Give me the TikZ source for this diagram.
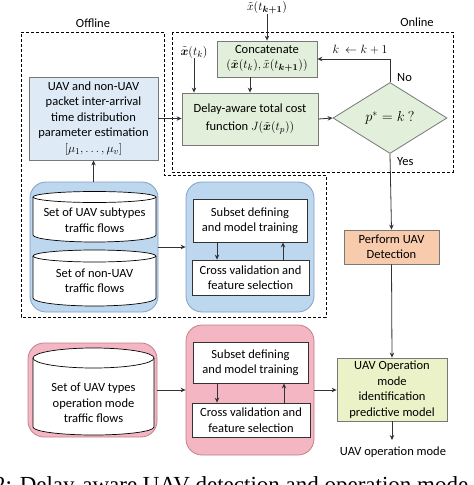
\documentclass[tikz,border=0pt]{standalone}
\usepackage{amsmath,bm}
\usepackage{fontspec}
\setmainfont{Carlito}
\newfontfamily\capfont{Liberation Serif}
\usetikzlibrary{arrows.meta,shapes.geometric}
\definecolor{gfill}{RGB}{226,239,218}
\definecolor{bfill}{RGB}{222,235,247}
\definecolor{bgrp}{RGB}{189,215,238}
\definecolor{bgrpd}{RGB}{130,160,200}
\definecolor{ofill}{RGB}{248,203,173}
\definecolor{yfill}{RGB}{236,242,200}
\definecolor{pfill}{RGB}{244,182,194}
\definecolor{pdraw}{RGB}{190,130,140}
\definecolor{bord}{RGB}{120,120,120}
\definecolor{arrc}{RGB}{50,50,50}
\tikzset{
  box/.style={draw=bord, line width=0.8pt, inner sep=0pt, align=center, font=\fontsize{12.5}{15.5}\selectfont},
  wbox/.style={draw=arrc, fill=white, line width=0.8pt, inner sep=0pt, align=center, font=\fontsize{12.5}{15.5}\selectfont},
  grp/.style={rounded corners=16pt, line width=0.8pt, inner sep=0pt},
  arr/.style={draw=arrc, line width=0.8pt, -{Stealth[length=5pt,width=4.5pt]}},
  dsh/.style={draw=black, line width=0.8pt, dash pattern=on 3pt off 2pt},
  lbl/.style={inner sep=1pt, font=\fontsize{12.5}{14}\selectfont},
  cyl/.style={draw=black, fill=white, line width=0.7pt}
}
\begin{document}
\begin{tikzpicture}[x=1pt,y=-1pt]
\useasboundingbox (0,0) rectangle (474,485);
\clip (0,0) rectangle (474,485);
\fill[white] (0,0) rectangle (474,485);
% dashed regions
\draw[dsh] (21,32) -- (164,32) -- (164,175) -- (326,175) -- (326,317) -- (21,317) -- cycle;
\draw[dsh] (172,32) rectangle (453,172);
\node[lbl] (offl) at (93,23) {Offline};
\node[lbl] (onl) at (417,22) {Online};
% online part
\node[box, fill=gfill, minimum width=100pt, minimum height=36pt, font=\fontsize{12.5}{15}\selectfont] (conc) at (267,59)
  {Concatenate\\$(\tilde{\bm{x}}(t_k),\tilde{x}(t_{\bm{k+1}}))$};
\node[box, fill=gfill, minimum width=136pt, minimum height=52pt, font=\fontsize{12.5}{18}\selectfont] (delay) at (250,119)
  {Delay-aware total cost\\function $J(\tilde{\bm{x}}(t_p))$};
\node[box, fill=gfill, shape=diamond, shape aspect=1.6, minimum width=114pt, minimum height=71pt, font=\fontsize{14}{16}\selectfont] (dia) at (390,118)
  {$p^{*}=k\ ?$};
\node[lbl, inner sep=0pt] (xk1) at (267,8) {$\tilde{x}(t_{\bm{k+1}})$};
\node[lbl, inner sep=0pt] (xk) at (194,52) {$\tilde{\bm{x}}(t_k)$};
\node[lbl] (kk) at (360,50) {$k\ \leftarrow k+1$};
\node[lbl, anchor=west] (no) at (396,78) {No};
\node[lbl, anchor=west] (yes) at (396,162) {Yes};
% offline top-left
\node[box, fill=bfill, minimum width=129pt, minimum height=83pt] (est) at (93.5,118.5)
  {UAV and non-UAV\\packet inter-arrival\\time distribution\\parameter estimation\\$[\mu_1,\ldots,\mu_v]$};
% blue groups
\node[grp, draw=bgrpd, fill=bgrp, minimum width=128pt, minimum height=130pt] (bg1) at (94,247) {};
\node[grp, draw=bgrpd, fill=bgrp, minimum width=128pt, minimum height=130pt] (bg2) at (250,247) {};
% cylinders blue
\draw[cyl] (33,197) -- (33,235) arc[start angle=180, end angle=360, x radius=61.5pt, y radius=7pt] -- (156,197);
\draw[cyl] (94.5,197) ellipse[x radius=61.5pt, y radius=5.5pt];
\draw[cyl] (33,256) -- (33,298) arc[start angle=180, end angle=360, x radius=61.5pt, y radius=8pt] -- (156,256);
\draw[cyl] (94.5,256) ellipse[x radius=61.5pt, y radius=6pt];
\node[lbl, align=center, font=\fontsize{12.5}{15.5}\selectfont] (c1) at (94.5,220) {Set of UAV subtypes\\traffic flows};
\node[lbl, align=center, font=\fontsize{12.5}{15.5}\selectfont] (c2) at (94.5,281) {Set of non-UAV\\traffic flows};
\node[wbox, minimum width=114pt, minimum height=43pt] (sub1) at (250,220.5) {Subset defining\\and model training};
\node[wbox, minimum width=117pt, minimum height=35pt] (cr1) at (250.5,277.5) {Cross validation and\\feature selection};
% right column
\node[box, fill=ofill, minimum width=95pt, minimum height=34pt] (perf) at (391.5,247) {Perform UAV\\Detection};
\node[box, fill=yfill, minimum width=110pt, minimum height=63pt] (oper) at (392,389.5)
  {UAV Operation\\mode\\identification\\predictive model};
\coordinate (outc) at (392,440);
\node[lbl] (outl) at (393,452) {UAV operation mode};
% pink groups
\node[grp, draw=pdraw, fill=pfill, minimum width=129pt, minimum height=94pt] (pg1) at (92.5,390) {};
\node[grp, draw=pdraw, fill=pfill, minimum width=128pt, minimum height=130pt] (pg2) at (250,390) {};
\draw[cyl] (33,358) -- (33,427) arc[start angle=180, end angle=360, x radius=60.5pt, y radius=8pt] -- (154,358);
\draw[cyl] (93.5,358) ellipse[x radius=60.5pt, y radius=10pt];
\node[lbl, align=center, font=\fontsize{12.5}{15.5}\selectfont] (c3) at (93.5,403) {Set of UAV types\\operation mode\\traffic flows};
\node[wbox, minimum width=115pt, minimum height=41pt] (sub2) at (250.5,362.5) {Subset defining\\and model training};
\node[wbox, minimum width=118pt, minimum height=34pt] (cr2) at (251,420) {Cross validation and\\feature selection};
% arrows
\draw[arr] (xk1.south) -- (conc.north);
\draw[arr] (xk.south) -- (xk.south |- delay.north);
\draw[arr] (conc.south -| delay.north) -- (delay.north);
\draw[arr] (est.east) -- (est.east -| delay.west);
\draw[arr] (delay.east) -- (dia.west);
\draw[arr] (dia.north) |- (conc.east);
\draw[arr] (dia.south) -- (perf.north);
\draw[arr] (perf.south) -- (oper.north);
\draw[arr] (oper.south) -- (outc);
\draw[arr] (est.south |- bg1.north) -- (est.south);
\draw[arr] (bg1.east) -- (bg2.west);
\draw[arr] (sub1.south -| 217,0) -- (cr1.north -| 217,0);
\draw[arr] (cr1.north -| 283,0) -- (sub1.south -| 283,0);
\draw[arr] (pg1.east) -- (pg2.west);
\draw[arr] (pg2.east) -- (pg2.east -| oper.west);
\draw[arr] (sub2.south -| 217,0) -- (cr2.north -| 217,0);
\draw[arr] (cr2.north -| 284,0) -- (sub2.south -| 284,0);
% caption (cut off)
\node[anchor=base west, inner sep=0pt, font=\capfont\fontsize{23}{27}\selectfont] (cap) at (-6,492) {2: Delay-aware UAV detection and operation mode w};
\end{tikzpicture}
\end{document}
